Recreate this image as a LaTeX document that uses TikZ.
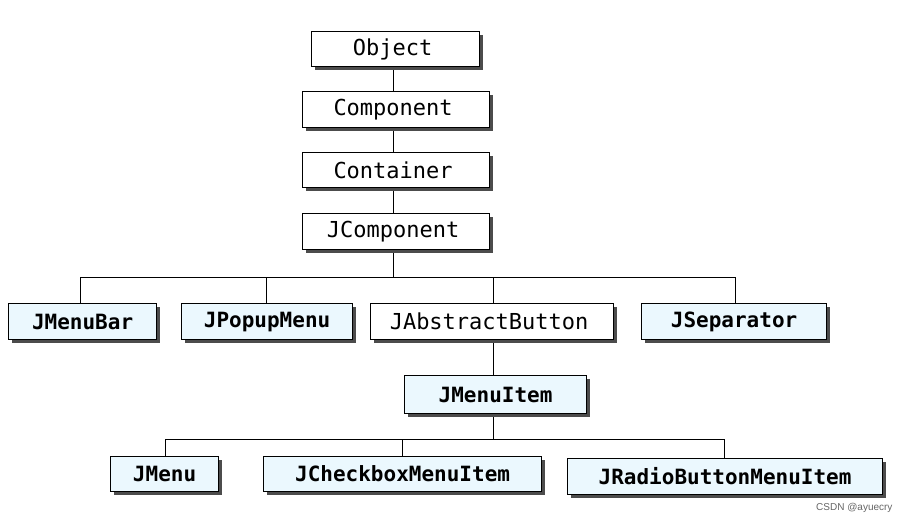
\documentclass[tikz,border=0pt]{standalone}
\usepackage{fontspec}
\setmonofont{DejaVu Sans Mono}
\setsansfont{Liberation Sans}
\begin{document}
\begin{tikzpicture}[x=1pt,y=-1pt,
 cls/.style={draw=black,line width=1.2pt,fill=white,inner sep=0pt},
 swing/.style={cls,fill=cyan!8},
 lab/.style={font=\ttfamily\fontsize{22}{24}\selectfont},
 blab/.style={font=\ttfamily\bfseries\fontsize{21}{24}\selectfont},
 shadow/.style={fill=black!70},
 link/.style={line width=1pt}]
\useasboundingbox (0,0) rectangle (908,524);
\fill[white] (0,0) rectangle (908,524);
\newcommand{\bx}[6]{% name, style, x1,y1,x2,y2
 \fill[shadow] (#3+4,#4+4) rectangle (#5+4,#6+4);
 \node[#2,minimum width=#5-#3,minimum height=#6-#4,anchor=north west] (#1) at (#3,#4) {};}
\coordinate (b1l) at (80,277); \coordinate (b1r) at (735,277);
\coordinate (b2l) at (165,439); \coordinate (b2r) at (724,439);
\draw[link] (393,48) -- (393,277);
\draw[link] (b1l) -- (b1r);
\draw[link] (80,277) -- (80,320); \draw[link] (266,277) -- (266,320);
\draw[link] (493,277) -- (493,439); \draw[link] (735,277) -- (735,320);
\draw[link] (b2l) -- (b2r);
\draw[link] (165,439) -- (165,470); \draw[link] (402,439) -- (402,470); \draw[link] (724,439) -- (724,470);
\bx{obj}{cls}{311}{31}{479}{66}
\bx{comp}{cls}{302}{91}{489}{127}
\bx{cont}{cls}{302}{152}{489}{187}
\bx{jcomp}{cls}{302}{213}{489}{249}
\bx{mb}{swing}{8}{303}{156}{339}
\bx{pm}{swing}{181}{303}{352}{339}
\bx{ab}{cls}{370}{303}{613}{339}
\bx{sep}{swing}{641}{303}{826}{339}
\bx{mi}{swing}{404}{375}{586}{413}
\bx{menu}{swing}{110}{456}{218}{491}
\bx{cb}{swing}{263}{456}{541}{491}
\bx{rb}{swing}{567}{458}{882}{494}
\node[lab] at ([xshift=-3pt]obj) {Object};
\node[lab] at ([xshift=-3pt]comp) {Component};
\node[lab] at ([xshift=-3pt]cont) {Container};
\node[lab] at ([xshift=-3pt]jcomp) {JComponent};
\node[lab] at ([xshift=-3pt]ab) {JAbstractButton};
\node[blab] at (mb) {JMenuBar};
\node[blab] at (pm) {JPopupMenu};
\node[blab] at (sep) {JSeparator};
\node[blab] at (mi) {JMenuItem};
\node[blab] at (menu) {JMenu};
\node[blab] at (cb) {JCheckboxMenuItem};
\node[blab] at (rb) {JRadioButtonMenuItem};
\node[font=\sffamily\fontsize{10}{11}\selectfont,text=black!60,anchor=east] (wm) at (896,508) {CSDN @ayuecry};
\end{tikzpicture}
\end{document}
